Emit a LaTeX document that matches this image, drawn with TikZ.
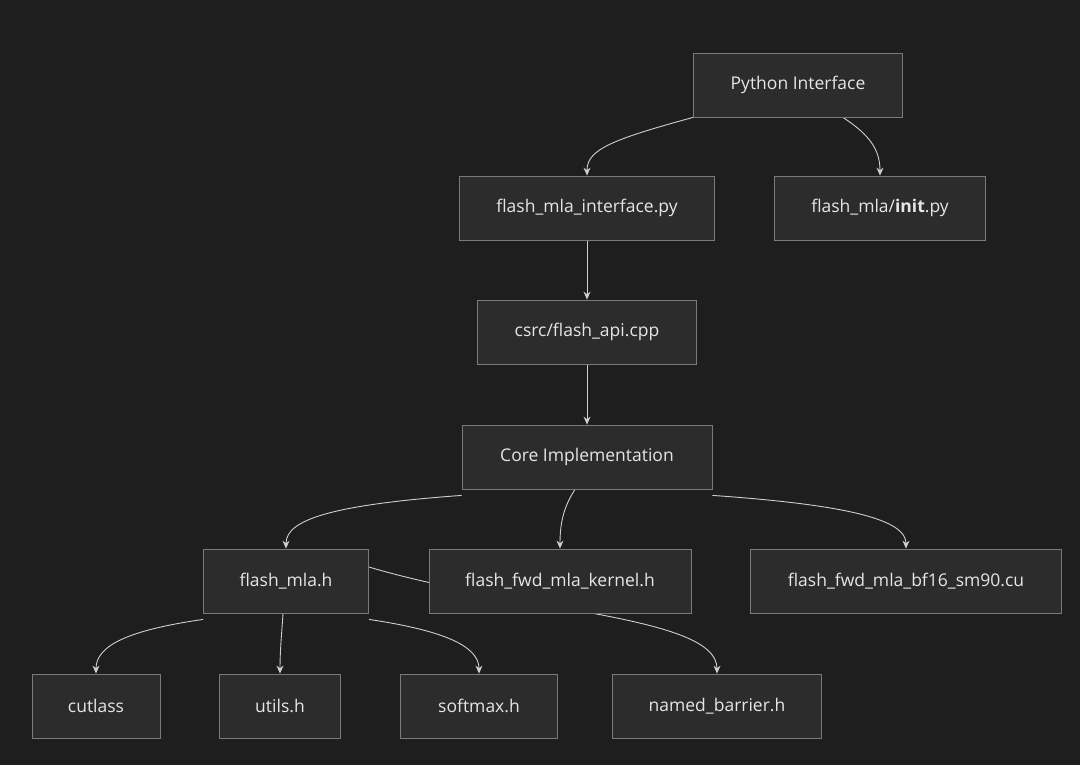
\documentclass[tikz,border=0pt]{standalone}
\usepackage{fontspec}
\setmainfont{Open Sans}
\usetikzlibrary{arrows.meta}
\pgfdeclarelayer{bgl}
\pgfdeclarelayer{edges}
\pgfsetlayers{bgl,edges,main}
\definecolor{bg}{HTML}{1E1E1E}
\definecolor{boxfill}{HTML}{2C2C2C}
\definecolor{boxline}{HTML}{7A7A7A}
\definecolor{txt}{HTML}{E6E6E6}
\definecolor{edge}{HTML}{CFCFCF}
\begin{document}
\begin{tikzpicture}[x=1pt,y=-1pt,
  box/.style={draw=boxline,fill=boxfill,text=txt,line width=0.8pt,minimum height=64pt,font=\fontsize{17.5}{20}\selectfont,inner sep=0pt},
  conn/.style={draw=edge,line width=0.9pt,-{Stealth[length=8pt,width=7pt]}}]
\begin{pgfonlayer}{bgl}
\fill[bg] (0,0) rectangle (1080,765);
\end{pgfonlayer}
\useasboundingbox (0,0) rectangle (1080,765);
\node[box,minimum width=209pt] (py) at (798,85) {Python Interface};
\node[box,minimum width=255pt] (fi) at (587,208) {flash\_mla\_interface.py};
\node[box,minimum width=211pt] (ini) at (880,208) {flash\_mla/\textbf{init}.py};
\node[box,minimum width=219pt] (api) at (587,332) {csrc/flash\_api.cpp};
\node[box,minimum width=250pt] (core) at (587,457) {Core Implementation};
\node[box,minimum width=165pt] (fm) at (286,581) {flash\_mla.h};
\node[box,minimum width=262pt] (ker) at (560,581) {flash\_fwd\_mla\_kernel.h};
\node[box,minimum width=311pt] (bf) at (906,581) {flash\_fwd\_mla\_bf16\_sm90.cu};
\node[box,minimum width=128pt] (cut) at (96,706) {cutlass};
\node[box,minimum width=121pt] (ut) at (280,706) {utils.h};
\node[box,minimum width=157pt] (sm) at (479,706) {softmax.h};
\node[box,minimum width=209pt] (nb) at (717,706) {named\_barrier.h};
\begin{pgfonlayer}{edges}
\draw[conn] (py.south west) .. controls (610,140) and (587,150) .. (fi.north);
\draw[conn] ([xshift=-60pt]py.south east) .. controls (870,135) and (880,150) .. (ini.north);
\draw[conn] (fi) -- (api);
\draw[conn] (api) -- (core);
\draw[conn] ([yshift=-6pt]core.south west) .. controls (330,505) and (286,520) .. (fm.north);
\draw[conn] ([xshift=-12pt]core.south) .. controls (565,505) and (560,520) .. (ker.north);
\draw[conn] ([yshift=-6pt]core.south east) .. controls (850,505) and (906,520) .. (bf.north);
\draw[conn] ([yshift=-6pt]fm.south west) .. controls (130,630) and (96,645) .. (cut.north);
\draw[conn] ([xshift=-3pt]fm.south) .. controls (282,630) and (280,650) .. (ut.north);
\draw[conn] ([yshift=-6pt]fm.south east) .. controls (440,630) and (479,645) .. (sm.north);
\draw[conn] ([yshift=14pt]fm.east) .. controls (520,612) and (717,615) .. (nb.north);
\end{pgfonlayer}
\end{tikzpicture}
\end{document}
